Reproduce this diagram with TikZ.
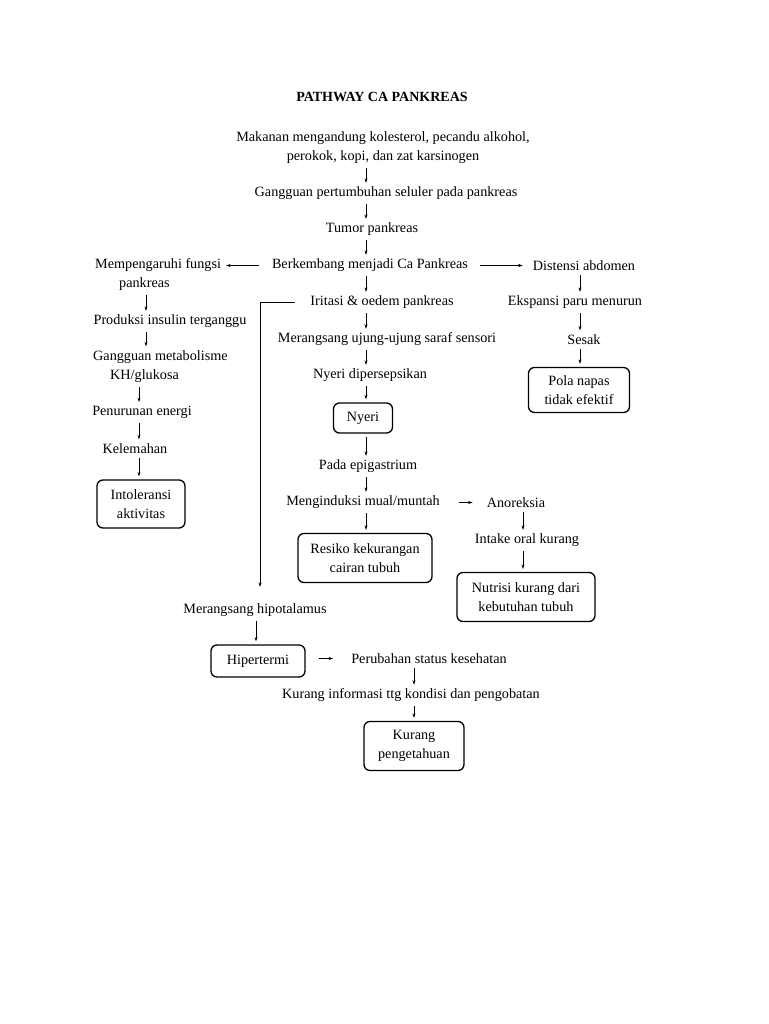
\documentclass[tikz,border=0pt]{standalone}
\usepackage{fontspec}
\setmainfont{Liberation Serif}
\usetikzlibrary{arrows.meta}
\begin{document}
\begin{tikzpicture}[x=1pt,y=-1pt,
  txt/.style={inner sep=1pt, font=\fontsize{14.2}{19}\selectfont, align=center, yshift=-1.5pt},
  box/.style={txt, draw, line width=1.3pt, rounded corners=6pt, yshift=1.5pt},
  arr/.style={-{Stealth[length=4.5pt,width=3pt]}, line width=0.6pt, shorten <=3pt, shorten >=3pt},
  thickln/.style={line width=1.6pt}
]
\useasboundingbox (0,0) rectangle (768,1024);
\fill[white] (0,0) rectangle (768,1024);

\coordinate (cM) at (366,0);
\coordinate (cL) at (146,0);
\coordinate (cL2) at (139,0);
\coordinate (cR) at (580,0);
\coordinate (cA) at (523,0);
\coordinate (cH) at (256,0);
\coordinate (cK) at (414,0);
\coordinate (cT) at (260,0);

\node[txt, font=\fontsize{14}{16}\selectfont\bfseries] (title) at (382,95) {PATHWAY CA PANKREAS};

% centre column
\node[txt] (mak) at (383,146.5) {Makanan mengandung kolesterol, pecandu alkohol,\\perokok, kopi, dan zat karsinogen};
\node[txt] (gang) at (386,192) {Gangguan pertumbuhan seluler pada pankreas};
\node[txt] (tum) at (372,228) {Tumor pankreas};
\node[txt] (berk) at (370,264) {Berkembang menjadi Ca Pankreas};
\node[txt] (irit) at (382,301) {Iritasi \& oedem pankreas};
\node[txt] (meru) at (387,338) {Merangsang ujung-ujung saraf sensori};
\node[txt] (nyd) at (370,374) {Nyeri dipersepsikan};
\node[box, minimum width=59pt, minimum height=30pt] (nyeri) at (363,418) {Nyeri};
\node[txt] (pada) at (368,465) {Pada epigastrium};
\node[txt] (meng) at (363,501) {Menginduksi mual/muntah};
\node[box, minimum width=134pt, minimum height=49pt] (res) at (365,558) {Resiko kekurangan\\cairan tubuh};
\node[txt] (anor) at (516,501) {Anoreksia};
\node[txt] (intk) at (527,539) {Intake oral kurang};
\node[box, minimum width=138pt, minimum height=49pt] (nut) at (526,597) {Nutrisi kurang dari\\kebutuhan tubuh};

% right column
\node[txt] (dist) at (584,264) {Distensi abdomen};
\node[txt] (eksp) at (575,301) {Ekspansi paru menurun};
\node[txt] (ses) at (584,338) {Sesak};
\node[box, minimum width=101pt, minimum height=45pt] (pola) at (579,390) {Pola napas\\tidak efektif};

% left column
\node[txt, align=left, anchor=west] (memp) at (94,273.5) {Mempengaruhi fungsi\\\hspace{24pt}pankreas};
\node[txt] (prod) at (170,320) {Produksi insulin terganggu};
\node[txt, align=left, anchor=west] (gmet) at (92,365) {Gangguan metabolisme\\\hspace{17pt}KH/glukosa};
\node[txt] (pen) at (142,411) {Penurunan energi};
\node[txt] (kel) at (135,447) {Kelemahan};
\node[box, minimum width=88pt, minimum height=48pt] (intol) at (141,504) {Intoleransi\\aktivitas};

% bottom
\node[txt] (hipo) at (255,609) {Merangsang hipotalamus};
\node[box, minimum width=94pt, minimum height=32pt] (hip) at (258,661) {Hipertermi};
\node[txt] (perub) at (429,657) {Perubahan status kesehatan};
\node[txt] (kinf) at (411,694) {Kurang informasi ttg kondisi dan pengobatan};
\node[box, minimum width=100pt, minimum height=49pt] (kpeng) at (414,746) {Kurang\\pengetahuan};

% vertical arrows centre
\draw[arr] (mak.south -| cM) -- (gang.north -| cM);
\draw[arr] (gang.south -| cM) -- (tum.north -| cM);
\draw[arr] (tum.south -| cM) -- (berk.north -| cM);
\draw[arr] (berk.south -| cM) -- (irit.north -| cM);
\draw[arr] (irit.south -| cM) -- (meru.north -| cM);
\draw[arr] (meru.south -| cM) -- (nyd.north -| cM);
\draw[arr] (nyd.south -| cM) -- (nyeri.north -| cM);
\draw[arr] (nyeri.south -| cM) -- (pada.north -| cM);
\draw[arr] (pada.south -| cM) -- (meng.north -| cM);
\draw[arr] (meng.south -| cM) -- (res.north -| cM);
\draw[arr] (anor.south -| cA) -- (intk.north -| cA);
\draw[arr] (intk.south -| cA) -- (nut.north -| cA);

% right column arrows
\draw[arr] (dist.south -| cR) -- (eksp.north -| cR);
\draw[arr] (eksp.south -| cR) -- (ses.north -| cR);
\draw[arr] (ses.south -| cR) -- (pola.north -| cR);

% left column arrows
\draw[arr] (memp.south -| cL) -- (prod.north -| cL);
\draw[arr] (prod.south -| cL) -- (gmet.north -| cL);
\draw[arr] (gmet.south -| cL2) -- (pen.north -| cL2);
\draw[arr] (pen.south -| cL2) -- (kel.north -| cL2);
\draw[arr] (kel.south -| cL2) -- (intol.north -| cL2);

% horizontal arrows
\draw[arr, shorten <=12pt, shorten >=4pt] (berk.west) -- (berk.west -| memp.east);
\draw[arr, shorten <=11pt, shorten >=9pt] (berk.east) -- (dist.west);
\draw[arr, shorten <=18pt, shorten >=13pt] (meng.east) -- (anor.west);
\draw[arr, shorten <=13pt, shorten >=17pt] (perub.west -| hip.east) -- (perub.west);

% thick branch to hypothalamus
\draw[thickln] ([xshift=-14pt]irit.west) -- (irit.west -| cT);
\draw[arr, shorten <=0pt, shorten >=16pt] (irit.west -| cT) -- (hipo.north -| cT);

% bottom arrows
\draw[arr] (hipo.south -| cH) -- (hip.north -| cH);
\draw[arr] (perub.south -| cK) -- (kinf.north -| cK);
\draw[arr] (kinf.south -| cK) -- (kpeng.north -| cK);
\end{tikzpicture}
\end{document}
